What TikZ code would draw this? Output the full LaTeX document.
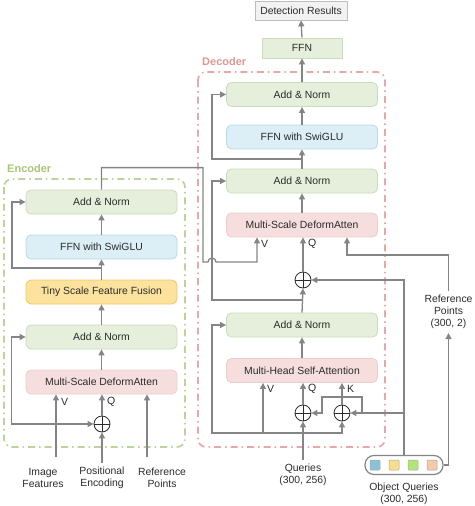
\documentclass[tikz,border=0pt]{standalone}
\usepackage{fontspec}
\setmainfont{Liberation Sans}
\usetikzlibrary{arrows.meta,calc}
\usepackage{xcolor}

\definecolor{gnfill}{HTML}{E6EFDC}
\definecolor{gndraw}{HTML}{CADCB8}
\definecolor{blfill}{HTML}{DCEEF6}
\definecolor{bldraw}{HTML}{B6DAE9}
\definecolor{ylfill}{HTML}{FCE29C}
\definecolor{yldraw}{HTML}{F2C76A}
\definecolor{pkfill}{HTML}{F5DEDD}
\definecolor{pkdraw}{HTML}{EDCDCC}
\definecolor{gyfill}{HTML}{F2F2F2}
\definecolor{gydraw}{HTML}{BDBDBD}
\definecolor{arrc}{HTML}{858585}
\definecolor{txt}{HTML}{2B2B2B}
\definecolor{encc}{HTML}{BCD39A}
\definecolor{enclab}{HTML}{A8C673}
\definecolor{decc}{HTML}{E6A8A8}
\definecolor{declab}{HTML}{DE9797}
\definecolor{sqb}{HTML}{8CC2D8}
\definecolor{sqy}{HTML}{FADF8A}
\definecolor{sqg}{HTML}{B3E47C}
\definecolor{sqp}{HTML}{F6CAA6}

\begin{document}
\begin{tikzpicture}[x=1pt,y=1pt]
\tikzstyle{every node}+=[inner sep=0pt, text=txt, font=\fontsize{10.4}{12}\selectfont]
\tikzstyle{blk}=[rounded corners=5pt, line width=0.8pt, minimum width=151pt, minimum height=24pt]
\tikzstyle{gnblk}=[blk, fill=gnfill, draw=gndraw]
\tikzstyle{blblk}=[blk, fill=blfill, draw=bldraw]
\tikzstyle{ylblk}=[blk, fill=ylfill, draw=yldraw]
\tikzstyle{pkblk}=[blk, fill=pkfill, draw=pkdraw]
\tikzstyle{plus}=[circle, draw=txt, line width=0.8pt, minimum size=16pt,
  path picture={\draw[txt, line width=0.8pt] (path picture bounding box.north) -- (path picture bounding box.south)
  (path picture bounding box.west) -- (path picture bounding box.east);}]
\tikzstyle{txtnode}=[align=center, inner sep=4pt]
\tikzstyle{lbl}=[anchor=west, font=\fontsize{10.5}{12}\selectfont]
\tikzstyle{arr}=[draw=arrc, line width=1.3pt, -{Triangle[length=6pt,width=6pt]}]
\tikzstyle{dashbox}=[rounded corners=8pt, line width=1.7pt, dash pattern=on 7pt off 4pt on 1.5pt off 4pt]
\tikzstyle{sq}=[draw=black!35, line width=0.5pt, minimum size=10pt, rounded corners=1pt]

\useasboundingbox (0,0) rectangle (474,-506);

% dashed frames
\draw[dashbox, draw=encc] (4,-179) rectangle (185,-447);
\node[anchor=west, text=enclab, font=\fontsize{11}{13}\selectfont\bfseries] (encLab) at (7,-169) {Encoder};
\draw[dashbox, draw=decc] (198,-72) rectangle (385,-447);
\node[anchor=west, text=declab, font=\fontsize{11}{13}\selectfont\bfseries] (decLab) at (202,-62) {Decoder};

% encoder
\node[gnblk] (encAN2) at (101.5,-202) {Add \& Norm};
\node[blblk] (encFFN) at (101.5,-247) {FFN with SwiGLU};
\node[ylblk] (encTSFF) at (101.5,-292) {Tiny Scale Feature Fusion};
\node[gnblk] (encAN1) at (101.5,-337) {Add \& Norm};
\node[pkblk] (encMSDA) at (101.5,-382) {Multi-Scale DeformAtten};
\node[plus] (encPlus) at (102,-424) {};
\node[txtnode] (imgFeat) at (43,-478) {Image\\Features};
\node[txtnode] (posEnc) at (102,-478) {Positional\\Encoding};
\node[txtnode] (refEnc) at (162,-478) {Reference\\Points};
\coordinate (vEnc) at (56,-457);
\coordinate (rEnc) at (147,-457);
\coordinate (encR2) at (102,-268);

\draw[arr] (encTSFF.north) -- (encFFN.south);
\draw[arr] (encFFN.north) -- (encAN2.south);
\draw[arr] (encR2) -- ++(-90,0) |- (encAN2.west);
\draw[arr] (encAN1.north) -- (encTSFF.south);
\draw[arr] (encMSDA.north) -- (encAN1.south);
\draw[arr] (encPlus.north) -- (encPlus.north |- encMSDA.south);
\draw[arr] (posEnc.north) -- (encPlus.south);
\draw[arr] (vEnc) -- (vEnc |- encMSDA.south);
\draw[arr] (rEnc) -- (rEnc |- encMSDA.south);
\draw[arr, {Triangle[length=6pt,width=6pt]}-{Triangle[length=6pt,width=6pt]}] (encPlus.west) -- ++(-82,0) |- (encAN1.west);
\node[lbl] (encV) at (61,-402) {V};
\node[lbl] (encQ) at (107,-402) {Q};

% decoder
\node[fill=gyfill, draw=gydraw, line width=0.8pt, minimum width=92pt, minimum height=19pt] (detect) at (301,-10.5) {Detection Results};
\node[fill=gnfill, draw=gndraw, line width=0.8pt, minimum width=80pt, minimum height=20pt] (outFFN) at (302,-48) {FFN};
\node[gnblk] (decAN3) at (302,-94.5) {Add \& Norm};
\node[blblk] (decFFN) at (302,-137) {FFN with SwiGLU};
\node[gnblk] (decAN2) at (302,-181) {Add \& Norm};
\node[pkblk] (decMSDA) at (302,-225) {Multi-Scale DeformAtten};
\node[plus] (decPlus) at (303,-280) {};
\node[gnblk] (decAN1) at (302,-325) {Add \& Norm};
\node[pkblk] (decMHSA) at (302,-370.5) {Multi-Head Self-Attention};
\node[plus] (plusQ) at (303,-413) {};
\node[plus] (plusK) at (342,-413) {};
\node[txtnode] (queries) at (303,-475) {Queries\\(300, 256)};
\node[txtnode] (refDec) at (448.5,-312) {Reference\\Points\\(300, 2)};
\node[draw=arrc, fill=white, line width=1.2pt, rounded corners=9pt, minimum width=78pt, minimum height=19pt] (objQ) at (404,-465) {};
\foreach \i/\c in {0/sqb,1/sqy,2/sqg,3/sqp}
  \node[sq, fill=\c] (oq\i) at (375+19*\i,-465) {};
\node[txtnode] (objText) at (404,-494) {Object Queries\\(300, 256)};
\coordinate (dR3) at (303,-159);
\coordinate (dR2) at (303,-300);
\coordinate (qSplit) at (303,-433);
\coordinate (vMH) at (263,-433);
\coordinate (vDec) at (257,-262);
\coordinate (rDec) at (347,-255);
\coordinate (bkR) at (362,-413);
\coordinate (bkL) at (322,-397);

\draw[arr] (outFFN.north) -- (detect.south);
\draw[arr] (decAN3.north) -- (outFFN.south);
\draw[arr] (decFFN.north) -- (decAN3.south);
\draw[arr] (dR3) -- ++(-91,0) |- (decAN3.west);
\draw[arr] (decAN2.north) -- (decFFN.south);
\draw[arr] (decMSDA.north) -- (decAN2.south);
\draw[arr] (decPlus.north) -- (decPlus.north |- decMSDA.south);
\draw[arr] (decAN1.north) -- (decPlus.south);
\draw[arr] (dR2) -- ++(-91,0) |- (decAN2.west);
\draw[arr] (decMHSA.north) -- (decAN1.south);
\draw[arr] (plusQ.north) -- (plusQ.north |- decMHSA.south);
\draw[arr] (plusK.north) -- (plusK.north |- decMHSA.south);
\draw[arr] (queries.north) -- (plusQ.south);
\draw[arr] (qSplit) -| (plusK.south);
\draw[arr] (qSplit) -- ++(-91,0) |- (decAN1.west);
\draw[arr] (vMH) -- (vMH |- decMHSA.south);
\draw[arr] (objQ.north) |- (plusK.east);
\draw[arr] (objQ.north) |- (decPlus.east);
\draw[arr] (bkR) |- (bkL) |- (plusQ.east);
\draw[arr] (objQ.east) -| (refDec.south);
\draw[arr] (refDec.north) |- (rDec) -- (rDec |- decMSDA.south);
% encoder memory into decoder
\draw[arr] (encAN2.north) -- ++(0,22) -| (203,-262) -- (208,-262) arc[start angle=180, end angle=0, radius=4] -- (vDec) -- (vDec |- decMSDA.south);
\node[lbl] (decV) at (261,-244) {V};
\node[lbl] (decQ) at (308,-244) {Q};
\node[lbl] (mhV) at (267,-389) {V};
\node[lbl] (mhQ) at (308,-389) {Q};
\node[lbl] (mhK) at (347,-389) {K};
\end{tikzpicture}
\end{document}
